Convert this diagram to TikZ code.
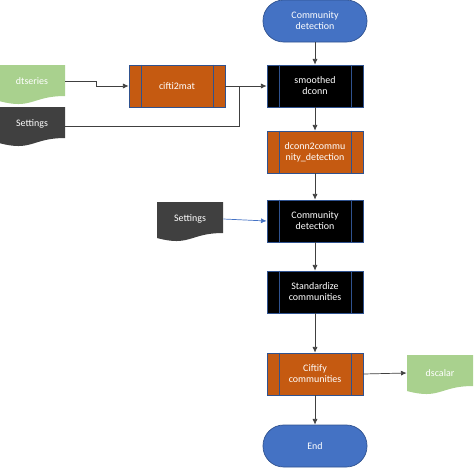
\documentclass[tikz,border=0pt]{standalone}
\usepackage{fontspec}
\setmainfont{Carlito}
\usetikzlibrary{arrows.meta,calc}

\definecolor{termblue}{RGB}{68,114,196}
\definecolor{procorange}{RGB}{197,90,17}
\definecolor{docgreen}{RGB}{169,209,142}
\definecolor{docgray}{RGB}{64,64,64}
\definecolor{edgeblue}{RGB}{47,82,143}
\definecolor{linkblue}{RGB}{68,114,196}

% documento con borde ondulado: #1 x izq, #2 y sup, #3 color
\newcommand{\docshape}[3]{%
  \fill[#3] (#1,#2) -- (#1+66,#2) -- (#1+66,#2+31)
    .. controls (#1+33,#2+31) and (#1+33,#2+45) .. (#1,#2+36) -- cycle;}

\begin{document}
\begin{tikzpicture}[x=0.03cm,y=-0.03cm,line width=0.6pt,>={Latex[length=1.7mm,width=1.5mm]},
  txt/.style={text=white,font=\fontsize{8.5}{9.5}\selectfont,align=center},
  term/.style={txt,draw=edgeblue,fill=termblue,rounded corners=0.62cm,minimum width=3.12cm,minimum height=1.26cm,inner sep=0pt},
  pred/.style={txt,draw=edgeblue,minimum width=2.88cm,minimum height=1.26cm,inner sep=0pt},
  doc/.style={txt,minimum width=1.98cm,minimum height=0.8cm,inner sep=0pt},
  link/.style={->,draw=black!75}]
  \clip (0,0) rectangle (474,467);
  % columna principal
  \node[term] (start) at (315,21) {Community\\detection};
  \node[pred,fill=black] (smooth) at (315,86) {smoothed\\dconn};
  \node[pred,fill=procorange] (d2c) at (315,152) {dconn2commu\\nity\_detection};
  \node[pred,fill=black] (commdet) at (315,221) {Community\\detection};
  \node[pred,fill=black] (stand) at (315,292) {Standardize\\communities};
  \node[pred,fill=procorange] (ciftify) at (315,374) {Ciftify\\communities};
  \node[term] (end) at (315,446) {End};
  \node[pred,fill=procorange] (c2m) at (177,86) {cifti2mat};
  % barras laterales de proceso predefinido
  \foreach \n in {smooth,d2c,commdet,stand,ciftify,c2m}
    \draw[edgeblue] ([xshift=0.375cm]\n.north west) -- ([xshift=0.375cm]\n.south west)
      ([xshift=-0.375cm]\n.north east) -- ([xshift=-0.375cm]\n.south east);
  % documentos
  \docshape{-1}{65}{docgreen} \node[doc] (dts) at (32,81) {dtseries};
  \docshape{-1}{107}{docgray} \node[doc] (set1) at (32,124) {Settings};
  \docshape{157}{202}{docgray} \node[doc] (set2) at (190,219) {Settings};
  \docshape{407}{355}{docgreen} \node[doc] (dsc) at (440,373) {dscalar};
  % conexiones
  \draw[link] (dts.east) -- ++(31,0) |- (c2m.west);
  \draw[link] (c2m.east) -- (smooth.west);
  \coordinate (merge) at (239,86);
  \draw[black!75] ([yshift=-2pt]set1.east) -| (merge);
  \draw[link] (start) -- (smooth);
  \draw[link] (smooth) -- (d2c);
  \draw[link] (d2c) -- (commdet);
  \draw[link,linkblue] (set2.east) -- (commdet.west);
  \draw[link] (commdet) -- (stand);
  \draw[link] (stand) -- (ciftify);
  \draw[link] (ciftify) -- (end);
  \draw[link] (ciftify.east) -- (dsc.west);
\end{tikzpicture}
\end{document}
